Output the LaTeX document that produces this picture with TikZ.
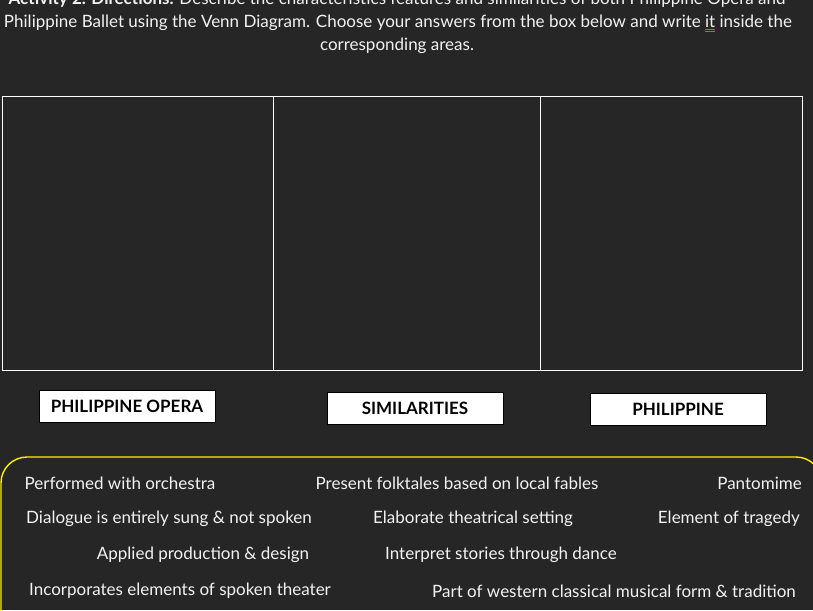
\documentclass[tikz,border=0pt]{standalone}
\usepackage{fontspec}
\setmainfont{Lato}
\definecolor{bgdark}{HTML}{262626}
\definecolor{txtlight}{HTML}{F2F2F2}
\definecolor{ylw}{HTML}{FFF000}
\definecolor{spell}{HTML}{4A7BF0}
\newcommand{\spellmark}[1]{{\setbox0\hbox{#1}\rlap{\color{spell}\rule[-2.5pt]{\wd0}{0.7pt}}\rlap{\color{spell}\rule[-4pt]{\wd0}{0.7pt}}\box0}}
\tikzset{
  txt/.style={text=txtlight,font=\fontsize{17}{20}\selectfont,inner sep=0pt},
  lbl/.style={draw=black,fill=white,minimum width=176pt,minimum height=32pt,font=\bfseries\fontsize{17}{20}\selectfont,inner sep=0pt}
}

\begin{document}
\begin{tikzpicture}[x=1pt,y=-1pt]
\fill[bgdark] (0,0) rectangle (813,610);
\useasboundingbox (0,0) rectangle (813,610);
\clip (0,0) rectangle (813,610);

% directions
\node[txt] (title1) at (397,0) {\textbf{Activity 2. Directions.} Describe the characteristics features and similarities of both Philippine Opera and};
\node[txt] (title2) at (398,23) {Philippine Ballet using the Venn Diagram. Choose your answers from the box below and write \spellmark{it} inside the};
\node[txt] (title3) at (397,46) {corresponding areas.};

% answer table
\draw[white,line width=1pt] (2.5,96) rectangle (802,370);
\foreach \x in {273,540} {
\draw[white,line width=1pt] (\x,96) -- (\x,370);
}

\node[lbl] (opera) at (127,406) {PHILIPPINE OPERA};
\node[lbl] (similar) at (415,408) {SIMILARITIES};
\node[lbl] (ballet) at (678,409) {PHILIPPINE};

% choices
\draw[ylw,line width=1.4pt,rounded corners=26pt] (1,660) -- (1,457) -- (822,457) -- (822,660);

\node[txt] (c1) at (120,483) {Performed with orchestra};
\node[txt] (c2) at (457,483) {Present folktales based on local fables};
\node[txt,anchor=east] (c3) at (802,483) {Pantomime};

\node[txt] (c4) at (169,519) {Dialogue is entirely sung \& not spoken};
\node[txt] (c5) at (473,519) {Elaborate theatrical setting};
\node[txt,anchor=east] (c6) at (800,519) {Element of tragedy};

\node[txt] (c7) at (203,555) {Applied production \& design};
\node[txt] (c8) at (501,555) {Interpret stories through dance};

\node[txt] (c9) at (180,591) {Incorporates elements of spoken theater};
\node[txt] (c10) at (614,591) {Part of western classical musical form \& tradition};

\end{tikzpicture}
\end{document}
